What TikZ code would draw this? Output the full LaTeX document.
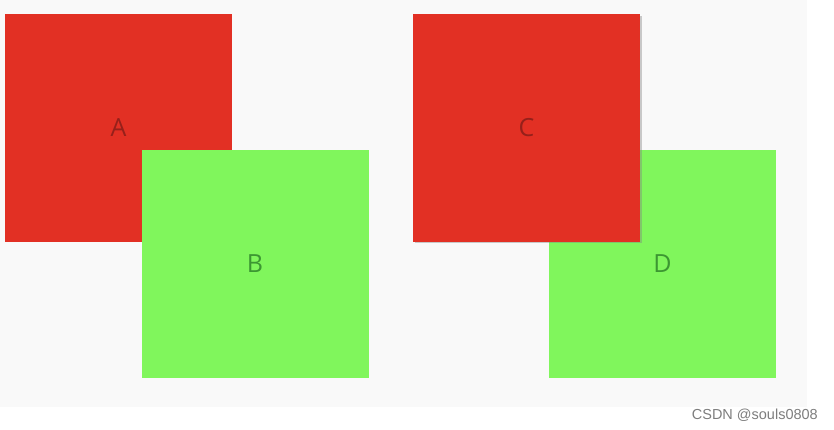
\documentclass[tikz,border=0pt]{standalone}
\usepackage{fontspec}
\setmainfont{Open Sans}
\newfontfamily\marcafont{Liberation Sans}
\usepackage{tikz}
\usetikzlibrary{positioning, shadows}
\definecolor{rojo}{RGB}{226, 48, 36}
\definecolor{verde}{RGB}{128, 246, 92}
\definecolor{fondo}{RGB}{249, 249, 249}
\definecolor{letraR}{RGB}{150, 32, 26}
\definecolor{letraV}{RGB}{60, 150, 50}
\definecolor{marca}{RGB}{125, 125, 125}
\tikzset{
    cuadR/.style={rectangle, fill=rojo, text=letraR, minimum size=227pt, inner sep=0pt, font=\fontsize{25}{25}\selectfont},
    cuadV/.style={rectangle, fill=verde, text=letraV, minimum size=227pt, inner sep=0pt, font=\fontsize{25}{25}\selectfont},
    sombra/.style={drop shadow={shadow xshift=1.5pt, shadow yshift=-1.5pt, opacity=0.4}},
}
\begin{document}
\begin{tikzpicture}[x=1pt, y=-1pt]
    \useasboundingbox (0,0) rectangle (834,430);
    \fill[fondo] (0,0) rectangle (807,407);

    % left: B above A
    \node[cuadR] (a) at (118.5,128) {A};
    \node[cuadV] (b) at (255,264) {B};

    % right: C above D
    \node[cuadV] (d) at (662.5,264) {D};
    \node[cuadR, sombra] (c) at (526.5,128) {C};

    \node[text=marca, anchor=east, font=\marcafont\fontsize{14.5}{14.5}\selectfont, inner sep=0pt] (csdn) at (818,415) {CSDN @souls0808};
\end{tikzpicture}
\end{document}
